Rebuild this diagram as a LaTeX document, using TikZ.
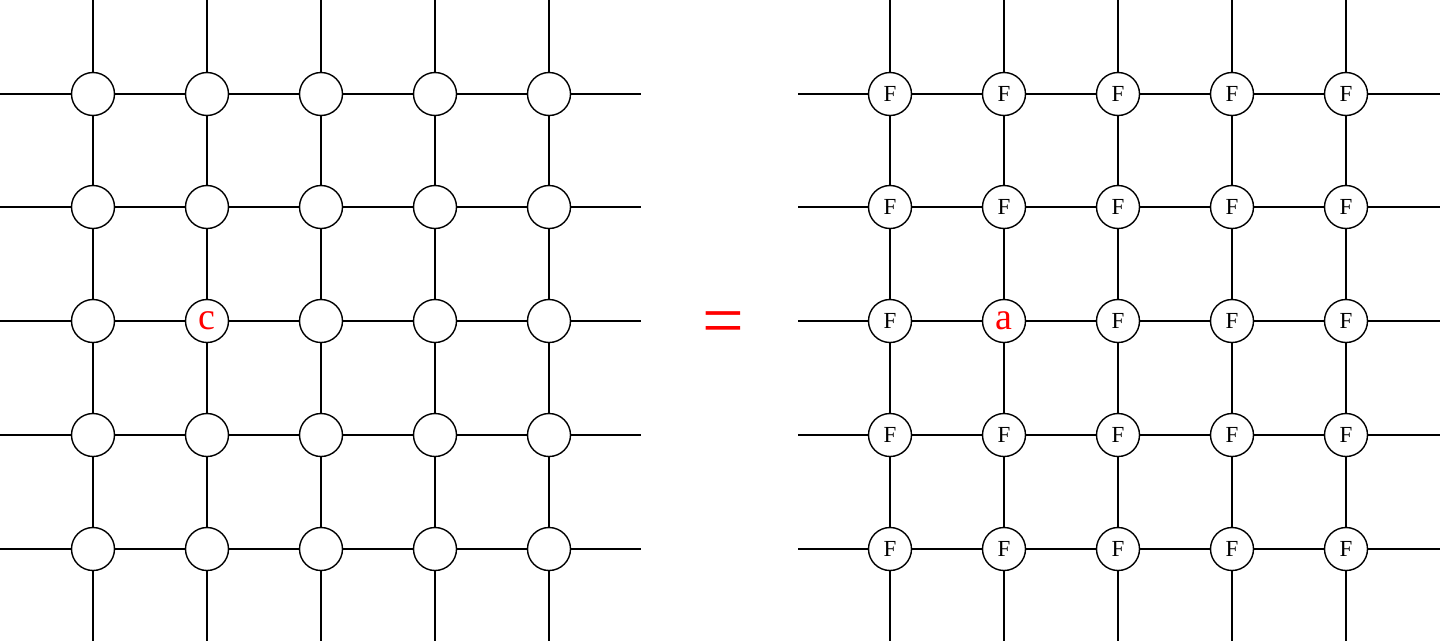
\documentclass[tikz,border=0pt]{standalone}
\usepackage{fontspec}
\setmainfont{Liberation Serif}
\begin{document}
\begin{tikzpicture}[x=1pt,y=-1pt,line width=1.4pt,
  site/.style={circle,draw,fill=white,minimum size=43pt,inner sep=0pt,font=\fontsize{23}{23}\selectfont},
  redsite/.style={site,text=red,font=\fontsize{38}{38}\selectfont},
  eqsign/.style={text=red,inner sep=0pt,font=\fontsize{74}{74}\selectfont}]
\useasboundingbox (0,0) rectangle (1440,643);
% left grid
\foreach \i/\y in {1/94,2/207,3/321,4/435,5/549}{
  \foreach \j/\x in {1/93,2/207,3/321,4/435,5/549}{
    \ifnum\i\j=32
      \node[redsite] (L-\i-\j) at (\x,\y) {c};
    \else
      \node[site] (L-\i-\j) at (\x,\y) {};
    \fi
  }
  \coordinate (LW-\i) at (0,\y);
  \coordinate (LE-\i) at (641,\y);
}
\foreach \j/\x in {1/93,2/207,3/321,4/435,5/549}{
  \coordinate (LN-\j) at (\x,0);
  \coordinate (LS-\j) at (\x,641);
}
% right grid
\foreach \i/\y in {1/94,2/207,3/321,4/435,5/549}{
  \foreach \j/\x in {1/890,2/1004,3/1118,4/1232,5/1346}{
    \ifnum\i\j=32
      \node[redsite] (R-\i-\j) at (\x,\y) {a};
    \else
      \node[site] (R-\i-\j) at (\x,\y) {F};
    \fi
  }
  \coordinate (RW-\i) at (798,\y);
  \coordinate (RE-\i) at (1440,\y);
}
\foreach \j/\x in {1/890,2/1004,3/1118,4/1232,5/1346}{
  \coordinate (RN-\j) at (\x,0);
  \coordinate (RS-\j) at (\x,641);
}
% connectors
\foreach \i in {1,...,5}{
  \draw (LW-\i) -- (L-\i-1) -- (L-\i-2) -- (L-\i-3) -- (L-\i-4) -- (L-\i-5) -- (LE-\i);
  \draw (LN-\i) -- (L-1-\i) -- (L-2-\i) -- (L-3-\i) -- (L-4-\i) -- (L-5-\i) -- (LS-\i);
  \draw (RW-\i) -- (R-\i-1) -- (R-\i-2) -- (R-\i-3) -- (R-\i-4) -- (R-\i-5) -- (RE-\i);
  \draw (RN-\i) -- (R-1-\i) -- (R-2-\i) -- (R-3-\i) -- (R-4-\i) -- (R-5-\i) -- (RS-\i);
}
\node[eqsign] (eq) at (723,329) {=};
\end{tikzpicture}
\end{document}
